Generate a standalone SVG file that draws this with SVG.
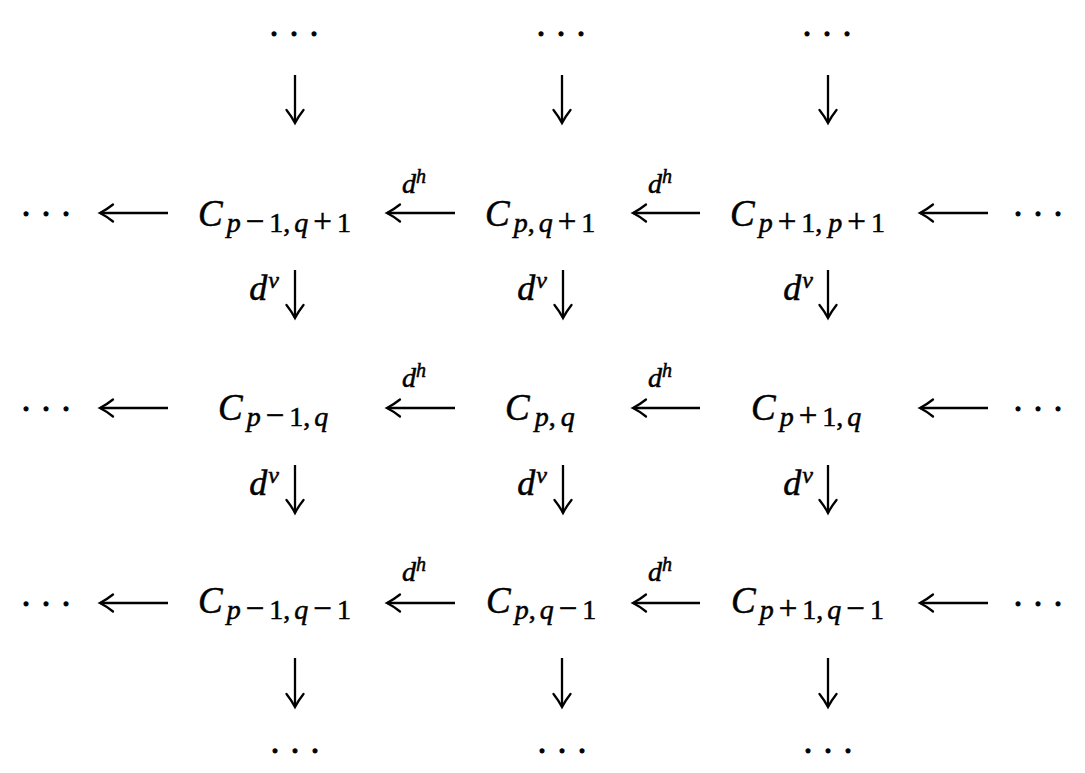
<svg xmlns="http://www.w3.org/2000/svg" width="1085" height="773" viewBox="0 0 1085 773">
<style>
text{font-family:"Liberation Serif","Times New Roman",serif;fill:#000;stroke:#000;stroke-width:0.5}
.t{font-size:37px}
.s{font-size:28px}
.o{font-size:33px}
.i{font-style:italic}
.dots{font-size:36px;letter-spacing:11px;text-anchor:middle;stroke-width:0.8}
.dv{font-size:36px;font-style:italic;text-anchor:end}
.dvs{font-size:24px}
.dh{font-size:28px;font-style:italic}
.dhs{font-size:20px}
.ar{stroke:#000;stroke-width:2.3;fill:none;marker-end:url(#head)}
</style>
<defs>
<marker id="head" markerUnits="userSpaceOnUse" markerWidth="1" markerHeight="1" orient="auto" style="overflow:visible">
<path d="M-13,-8.5 Q-6,-3 0,0 Q-6,3 -13,8.5" stroke="#000" stroke-width="2.3" fill="none" stroke-linecap="round"/>
</marker>
</defs>
<rect width="1085" height="773" fill="#fff"/>
<g id="connectors">
<line class="ar" x1="295" y1="75" x2="295" y2="123"/>
<line class="ar" x1="562" y1="75" x2="562" y2="123"/>
<line class="ar" x1="828" y1="75" x2="828" y2="123"/>
<line class="ar" x1="295" y1="270" x2="295" y2="318"/>
<line class="ar" x1="563" y1="270" x2="563" y2="318"/>
<line class="ar" x1="828" y1="270" x2="828" y2="318"/>
<line class="ar" x1="295" y1="465" x2="295" y2="513"/>
<line class="ar" x1="563" y1="465" x2="563" y2="513"/>
<line class="ar" x1="828" y1="465" x2="828" y2="513"/>
<line class="ar" x1="295" y1="658" x2="295" y2="707"/>
<line class="ar" x1="562" y1="658" x2="562" y2="707"/>
<line class="ar" x1="828" y1="658" x2="828" y2="707"/>
<line class="ar" x1="168" y1="213" x2="100" y2="213"/>
<line class="ar" x1="455" y1="213" x2="387" y2="213"/>
<line class="ar" x1="700" y1="213" x2="633" y2="213"/>
<line class="ar" x1="988" y1="213" x2="920" y2="213"/>
<line class="ar" x1="168" y1="408" x2="100" y2="408"/>
<line class="ar" x1="455" y1="408" x2="387" y2="408"/>
<line class="ar" x1="700" y1="408" x2="633" y2="408"/>
<line class="ar" x1="988" y1="408" x2="920" y2="408"/>
<line class="ar" x1="168" y1="603" x2="100" y2="603"/>
<line class="ar" x1="455" y1="603" x2="387" y2="603"/>
<line class="ar" x1="700" y1="603" x2="633" y2="603"/>
<line class="ar" x1="988" y1="603" x2="920" y2="603"/>
<text class="dv" x="279" y="300">d<tspan class="dvs" dx="1" dy="-12">v</tspan></text>
<text class="dv" x="547" y="300">d<tspan class="dvs" dx="1" dy="-12">v</tspan></text>
<text class="dv" x="813" y="300">d<tspan class="dvs" dx="1" dy="-12">v</tspan></text>
<text class="dv" x="279" y="495">d<tspan class="dvs" dx="1" dy="-12">v</tspan></text>
<text class="dv" x="547" y="495">d<tspan class="dvs" dx="1" dy="-12">v</tspan></text>
<text class="dv" x="813" y="495">d<tspan class="dvs" dx="1" dy="-12">v</tspan></text>
<text class="dh" x="402" y="193">d<tspan class="dhs" dy="-10">h</tspan></text>
<text class="dh" x="648" y="193">d<tspan class="dhs" dy="-10">h</tspan></text>
<text class="dh" x="402" y="387">d<tspan class="dhs" dy="-10">h</tspan></text>
<text class="dh" x="648" y="387">d<tspan class="dhs" dy="-10">h</tspan></text>
<text class="dh" x="402" y="581">d<tspan class="dhs" dy="-10">h</tspan></text>
<text class="dh" x="648" y="581">d<tspan class="dhs" dy="-10">h</tspan></text>
</g>
<g id="dots-top-1"><text class="dots" x="299.5" y="36">...</text></g>
<g id="dots-top-2"><text class="dots" x="566.5" y="36">...</text></g>
<g id="dots-top-3"><text class="dots" x="832.5" y="36">...</text></g>
<g id="dots-bot-1"><text class="dots" x="300.5" y="753">...</text></g>
<g id="dots-bot-2"><text class="dots" x="567.5" y="753">...</text></g>
<g id="dots-bot-3"><text class="dots" x="833.5" y="753">...</text></g>
<g id="dots-l-1"><text class="dots" x="51.5" y="216">...</text></g>
<g id="dots-l-2"><text class="dots" x="51.5" y="411">...</text></g>
<g id="dots-l-3"><text class="dots" x="51.5" y="606">...</text></g>
<g id="dots-r-1"><text class="dots" x="1043.5" y="216">...</text></g>
<g id="dots-r-2"><text class="dots" x="1043.5" y="411">...</text></g>
<g id="dots-r-3"><text class="dots" x="1043.5" y="606">...</text></g>
<g id="C-pm1-qp1"><text class="t" x="198" y="226"><tspan class="i">C</tspan><tspan class="s" dx="4" dy="6"><tspan class="i">p</tspan><tspan class="o" dx="5">−</tspan><tspan dx="5">1,</tspan><tspan class="i" dx="4">q</tspan><tspan class="o" dx="5">+</tspan><tspan dx="5">1</tspan></tspan></text></g>
<g id="C-p-qp1"><text class="t" x="485" y="226"><tspan class="i">C</tspan><tspan class="s" dx="4" dy="6"><tspan class="i">p</tspan>,<tspan class="i" dx="4">q</tspan><tspan class="o" dx="5">+</tspan><tspan dx="5">1</tspan></tspan></text></g>
<g id="C-pp1-pp1"><text class="t" x="730" y="226"><tspan class="i">C</tspan><tspan class="s" dx="4" dy="6"><tspan class="i">p</tspan><tspan class="o" dx="5">+</tspan><tspan dx="5">1,</tspan><tspan class="i" dx="6">p</tspan><tspan class="o" dx="5">+</tspan><tspan dx="5">1</tspan></tspan></text></g>
<g id="C-pm1-q"><text class="t" x="218" y="420"><tspan class="i">C</tspan><tspan class="s" dx="4" dy="6"><tspan class="i">p</tspan><tspan class="o" dx="5">−</tspan><tspan dx="5">1,</tspan><tspan class="i" dx="4">q</tspan></tspan></text></g>
<g id="C-p-q"><text class="t" x="505" y="420"><tspan class="i">C</tspan><tspan class="s" dx="5" dy="6"><tspan class="i">p</tspan>,<tspan class="i" dx="5">q</tspan></tspan></text></g>
<g id="C-pp1-q"><text class="t" x="751" y="420"><tspan class="i">C</tspan><tspan class="s" dx="4" dy="6"><tspan class="i">p</tspan><tspan class="o" dx="5">+</tspan><tspan dx="5">1,</tspan><tspan class="i" dx="4">q</tspan></tspan></text></g>
<g id="C-pm1-qm1"><text class="t" x="198" y="613"><tspan class="i">C</tspan><tspan class="s" dx="4" dy="6"><tspan class="i">p</tspan><tspan class="o" dx="5">−</tspan><tspan dx="5">1,</tspan><tspan class="i" dx="4">q</tspan><tspan class="o" dx="5">−</tspan><tspan dx="5">1</tspan></tspan></text></g>
<g id="C-p-qm1"><text class="t" x="486" y="613"><tspan class="i">C</tspan><tspan class="s" dx="4" dy="6"><tspan class="i">p</tspan>,<tspan class="i" dx="4">q</tspan><tspan class="o" dx="5">−</tspan><tspan dx="5">1</tspan></tspan></text></g>
<g id="C-pp1-qm1"><text class="t" x="731" y="613"><tspan class="i">C</tspan><tspan class="s" dx="4" dy="6"><tspan class="i">p</tspan><tspan class="o" dx="5">+</tspan><tspan dx="5">1,</tspan><tspan class="i" dx="4">q</tspan><tspan class="o" dx="5">−</tspan><tspan dx="5">1</tspan></tspan></text></g>
</svg>
